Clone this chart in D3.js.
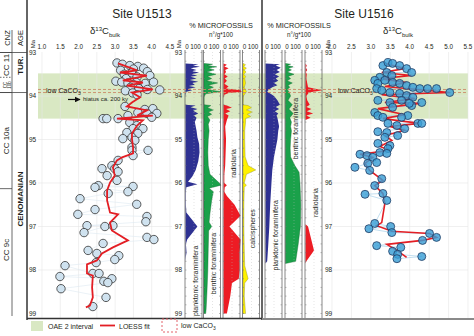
<!DOCTYPE html>
<html>
<head>
<meta charset="utf-8">
<script src="https://cdn.jsdelivr.net/npm/d3@7"></script>
<style>
  body { margin: 0; background: #fff; }
</style>
</head>
<body>
<svg id="chart"></svg>
<script>
// ---------- data (age in Ma) ----------
var ageTicks = [93, 94, 95, 96, 97, 98, 99];
var d13cTicksU1513 = [1.0, 1.5, 2.0, 2.5, 3.0, 3.5, 4.0, 4.5];
var d13cTicksU1516 = [2.0, 2.5, 3.0, 3.5, 4.0, 4.5, 5.0, 5.5];
var microTicks = [0, 100];
var oaeInterval = [93.48, 94.52];
var lowCaco3 = [93.85, 93.92];
var hiatusAge = 94.08;

var zoneNames = ["CC 11", "CC 10b", "CC 10a", "CC 9c"];
var zoneTops = [93.0, 93.57, 93.92, 96.13];
var zoneBases = [93.57, 93.92, 96.13, 98.95];
var stageNames = ["TUR.", "CENOMANIAN"];
var stageTops = [93.0, 93.92];
var stageBases = [93.92, 99.0];

// U1513 bulk d13C [age, value]
var u1513Points = [
  [93.24, 3.05], [93.27, 3.2], [93.3, 3.4], [93.32, 3.62], [93.36, 3.78], [93.38, 3.5],
  [93.41, 3.15], [93.44, 3.88], [93.47, 3.45], [93.5, 3.25], [93.53, 3.95], [93.56, 3.6],
  [93.6, 3.3], [93.66, 3.02], [93.68, 3.18], [93.7, 3.35], [93.69, 3.58], [93.71, 3.82],
  [93.68, 4.05], [93.74, 3.5], [93.8, 3.42], [93.83, 3.65], [93.85, 3.88], [93.86, 4.22],
  [93.88, 3.28], [93.93, 3.48], [93.97, 3.6],
  [94.24, 3.27], [94.31, 3.81], [94.29, 4.03], [94.45, 3.35], [94.38, 3.62], [94.40, 3.87],
  [94.40, 4.14], [94.49, 4.0], [94.52, 2.67], [94.52, 2.77], [94.52, 3.08], [94.61, 3.4],
  [94.68, 3.59], [94.75, 3.76], [94.75, 3.49], [94.84, 3.32], [94.86, 3.62], [94.98, 3.21],
  [94.95, 3.46], [95.02, 3.54], [95.18, 3.46], [95.25, 3.46], [95.25, 3.9], [95.37, 3.49],
  [95.48, 3.08], [95.6, 2.91], [95.67, 2.64], [95.67, 2.99], [95.74, 3.08], [95.83, 2.78],
  [95.94, 3.05], [96.06, 2.54], [96.1, 2.45], [96.24, 2.81], [96.08, 3.49], [96.2, 3.35],
  [96.36, 2.04], [96.49, 3.59], [96.61, 2.45], [96.72, 1.98], [96.77, 3.87], [96.89, 3.84],
  [96.98, 2.23], [97.0, 2.72], [96.98, 2.94], [97.14, 2.15], [97.25, 3.87], [97.3, 4.06],
  [97.39, 2.67], [97.55, 2.26], [97.62, 2.5], [97.67, 3.1], [97.76, 2.99], [97.83, 2.48],
  [97.9, 1.63], [98.08, 2.39], [98.08, 2.56], [98.15, 1.49], [98.2, 2.91], [98.26, 2.69],
  [98.29, 2.8], [98.43, 1.52], [98.63, 2.75], [98.84, 2.39]
];
var u1513Loess = [
  [93.25, 3.08], [93.41, 3.6], [93.46, 3.13], [93.53, 3.87], [93.64, 3.21], [93.69, 3.76],
  [93.76, 3.32], [93.85, 4.03], [93.92, 3.46], [94.03, 3.68], [94.15, 3.46], [94.24, 3.32],
  [94.33, 3.87], [94.45, 3.6], [94.45, 4.03], [94.52, 3.05], [94.56, 3.76], [94.68, 3.6],
  [94.86, 3.46], [94.98, 3.46], [95.18, 3.49], [95.32, 3.49], [95.41, 3.19], [95.48, 3.05],
  [95.64, 2.94], [95.83, 2.99], [95.99, 2.86], [96.17, 2.78], [96.4, 2.78], [96.68, 2.86],
  [96.72, 3.08], [96.91, 2.86], [97.09, 2.91], [97.32, 3.35], [97.48, 2.94], [97.62, 2.64],
  [97.78, 2.5], [97.87, 2.23], [98.08, 2.23], [98.13, 2.39], [98.4, 2.37], [98.63, 2.39],
  [98.82, 2.31], [98.86, 2.2]
];

// U1516 bulk d13C [age, value]
var u1516Points = [
  [93.3, 3.31], [93.23, 3.44], [93.25, 3.56], [93.3, 3.74], [93.37, 3.92], [93.46, 4.05],
  [93.46, 3.41], [93.53, 3.54], [93.57, 3.23], [93.64, 3.1], [93.71, 3.18], [93.64, 3.36],
  [93.69, 3.56], [93.71, 3.74], [93.76, 3.92], [93.8, 4.08], [93.83, 4.26], [93.83, 4.46],
  [93.83, 4.69], [93.92, 5.03], [93.83, 3.15], [93.87, 3.28], [93.92, 3.49], [93.94, 3.74],
  [93.99, 3.92], [94.03, 4.08], [94.1, 3.18], [94.15, 3.49], [94.1, 3.79], [94.15, 4.31],
  [94.22, 4.05], [94.17, 3.99], [94.26, 3.56], [94.38, 3.1], [94.45, 3.18], [94.49, 3.31],
  [94.45, 3.95], [94.49, 3.79], [94.63, 4.21], [94.63, 4.31], [94.63, 3.44], [94.68, 3.67],
  [94.75, 3.87], [94.82, 3.18], [94.84, 3.41], [94.91, 3.69], [94.95, 3.36], [95.09, 3.18],
  [95.14, 3.49], [95.21, 3.44], [95.3, 3.23], [95.32, 3.41], [95.34, 2.72], [95.37, 2.9],
  [95.41, 3.05], [95.53, 3.15], [95.55, 2.92], [95.64, 2.59], [95.71, 2.97], [95.9, 3.28],
  [96.06, 3.1], [96.24, 3.31], [96.26, 2.85], [96.4, 3.41], [96.93, 3.1], [97.05, 2.95],
  [97.0, 3.51], [97.14, 3.54], [97.16, 4.51], [97.25, 4.69], [97.32, 4.33], [97.44, 3.15],
  [97.48, 3.77], [97.57, 3.56], [97.64, 3.69], [97.74, 3.67], [97.69, 4.31]
];
var u1516Loess = [
  [93.25, 3.36], [93.37, 3.87], [93.46, 3.28], [93.53, 4.05], [93.6, 3.23], [93.69, 3.92],
  [93.78, 3.36], [93.92, 5.03], [93.97, 3.28], [94.06, 4.13], [94.15, 3.36], [94.17, 4.26],
  [94.29, 3.18], [94.43, 3.87], [94.52, 3.31], [94.63, 4.26], [94.7, 3.49], [94.79, 3.87],
  [94.91, 3.36], [95.02, 3.54], [95.16, 3.23], [95.25, 3.49], [95.34, 2.72], [95.41, 3.05],
  [95.55, 2.85], [95.71, 2.97], [95.94, 3.31], [96.06, 3.1], [96.24, 3.31], [96.47, 3.36],
  [96.91, 3.28], [96.98, 3.15], [97.11, 3.54], [97.16, 4.51], [97.25, 4.69], [97.32, 4.33],
  [97.41, 3.41], [97.55, 3.67], [97.71, 3.92]
];

// microfossils, n/g*100 [age, value]
var u1513Planktonic = [
  [93.25, 0], [93.27, 150], [93.3, 90], [93.33, 170], [93.36, 60], [93.4, 130], [93.43, 80],
  [93.46, 160], [93.5, 70], [93.53, 140], [93.56, 60], [93.6, 130], [93.63, 50], [93.67, 150],
  [93.7, 80], [93.74, 110], [93.77, 40], [93.8, 120], [93.84, 30], [93.87, 80], [93.9, 10],
  [94.0, 0], [94.2, 0], [94.22, 120], [94.26, 60], [94.3, 140], [94.34, 90], [94.4, 150],
  [94.45, 100], [94.5, 130], [94.6, 110], [94.7, 120], [94.8, 130], [94.95, 140], [95.1, 160],
  [95.3, 165], [95.5, 150], [95.7, 120], [95.85, 80], [95.97, 30], [96.03, 140], [96.1, 10],
  [96.2, 5], [96.5, 5], [96.68, 10], [97.0, 140], [97.3, 20], [97.4, 5], [97.6, 12], [97.7, 4],
  [97.8, 0], [99.0, 0]
];
var u1513Benthic = [
  [93.25, 0], [93.27, 100], [93.3, 40], [93.33, 150], [93.36, 50], [93.4, 120], [93.45, 30],
  [93.5, 140], [93.55, 40], [93.6, 90], [93.65, 30], [93.7, 160], [93.75, 50], [93.8, 110],
  [93.85, 40], [93.9, 190], [93.95, 20], [94.02, 0], [94.2, 0], [94.22, 80], [94.27, 40],
  [94.32, 110], [94.37, 50], [94.42, 90], [94.47, 40], [94.55, 70], [94.65, 50], [94.8, 60],
  [95.0, 50], [95.3, 45], [95.6, 50], [95.8, 70], [96.0, 180], [96.05, 200], [96.12, 60],
  [96.2, 110], [96.4, 90], [96.7, 70], [96.9, 60], [97.0, 90], [97.1, 55], [97.5, 50],
  [98.0, 45], [98.5, 35], [98.9, 25], [99.0, 20]
];
var u1513Radiolaria = [
  [93.25, 0], [93.28, 40], [93.32, 10], [93.36, 60], [93.4, 20], [93.45, 30], [93.5, 10],
  [93.55, 50], [93.6, 15], [93.65, 40], [93.72, 10], [93.78, 60], [93.83, 30], [93.87, 200],
  [93.9, 215], [93.93, 60], [93.97, 10], [94.05, 0], [94.2, 0], [94.22, 40], [94.27, 100],
  [94.3, 30], [94.35, 80], [94.4, 20], [94.45, 60], [94.55, 40], [94.7, 20], [95.0, 30],
  [95.3, 25], [95.6, 20], [95.8, 10], [96.0, 10], [96.05, 40], [96.1, 15], [96.2, 10],
  [96.3, 40], [96.5, 130], [96.75, 200], [97.0, 70], [97.3, 200], [97.6, 190], [98.0, 190],
  [98.2, 180], [98.3, 100], [98.6, 80], [99.0, 40]
];
var u1513Calcispheres = [
  [93.25, 0], [93.28, 30], [93.32, 10], [93.36, 40], [93.4, 15], [93.45, 35], [93.5, 10],
  [93.55, 30], [93.6, 20], [93.7, 30], [93.8, 15], [93.9, 40], [94.0, 5], [94.2, 0],
  [94.22, 60], [94.27, 100], [94.32, 40], [94.37, 110], [94.42, 50], [94.47, 90], [94.52, 30],
  [94.6, 30], [94.8, 20], [95.0, 20], [95.4, 25], [95.6, 60], [95.7, 150], [95.8, 40],
  [96.0, 15], [96.05, 40], [96.1, 15], [96.5, 10], [97.0, 10], [97.5, 15], [97.9, 20],
  [98.2, 60], [98.3, 20], [98.6, 15], [99.0, 30]
];
var u1516Planktonic = [
  [93.25, 0], [93.27, 170], [93.3, 120], [93.35, 180], [93.4, 130], [93.45, 170], [93.5, 110],
  [93.55, 160], [93.6, 120], [93.65, 150], [93.7, 100], [93.75, 140], [93.8, 80], [93.85, 40],
  [93.9, 20], [93.95, 60], [94.0, 100], [94.1, 140], [94.2, 170], [94.25, 120], [94.3, 160],
  [94.35, 110], [94.4, 150], [94.45, 130], [94.5, 140], [94.6, 150], [94.7, 160], [94.8, 150],
  [95.0, 140], [95.2, 120], [95.4, 100], [95.7, 80], [96.0, 70], [96.5, 55], [97.0, 45],
  [97.5, 30], [97.8, 20], [97.85, 0]
];
var u1516Benthic = [
  [93.25, 0], [93.27, 60], [93.3, 20], [93.33, 90], [93.37, 30], [93.4, 70], [93.45, 20],
  [93.5, 100], [93.55, 30], [93.6, 60], [93.65, 20], [93.7, 80], [93.75, 30], [93.8, 50],
  [93.85, 20], [93.9, 40], [94.0, 60], [94.1, 30], [94.2, 80], [94.3, 40], [94.4, 90],
  [94.5, 50], [94.6, 70], [94.7, 60], [94.8, 70], [95.0, 60], [95.2, 55], [95.4, 60],
  [95.6, 110], [95.75, 160], [96.0, 170], [96.5, 180], [97.0, 175], [97.4, 150], [97.8, 120],
  [97.85, 0]
];
var u1516Radiolaria = [
  [93.25, 0], [93.3, 15], [93.35, 5], [93.4, 20], [93.45, 5], [93.5, 15], [93.6, 10],
  [93.7, 20], [93.8, 30], [93.87, 200], [93.92, 40], [94.0, 10], [94.1, 20], [94.2, 50],
  [94.25, 10], [94.3, 70], [94.35, 15], [94.4, 90], [94.45, 10], [94.5, 60], [94.55, 0],
  [96.95, 0], [97.0, 30], [97.55, 100], [97.8, 10], [97.85, 0]
];

// ---------- drawing ----------
var ink = "#231f20";
var svg = d3.select("#chart")
  .attr("width", 474)
  .attr("height", 336)
  .style("font-family", '"Liberation Sans", Arial, sans-serif');

var y = d3.scaleLinear().domain([93, 99]).range([52.5, 313.5]);
var xL = d3.scaleLinear().domain([1.0, 4.5]).range([42, 170]);
var xR = d3.scaleLinear().domain([2.0, 5.5]).range([332, 468]);

function vtext(x, yy, str, size, weight) {
  return svg.append("text")
    .attr("transform", "translate(" + x + "," + yy + ") rotate(-90)")
    .attr("text-anchor", "middle")
    .attr("dy", "0.35em")
    .attr("font-size", size)
    .attr("font-weight", weight || "normal")
    .attr("fill", ink)
    .text(str);
}

// OAE 2 band
var bandY = y(oaeInterval[0]), bandH = y(oaeInterval[1]) - y(oaeInterval[0]);
svg.append("rect").attr("x", 38).attr("y", bandY).attr("width", 224).attr("height", bandH).attr("fill", "#d9e8c3");
svg.append("rect").attr("x", 263).attr("y", bandY).attr("width", 205).attr("height", bandH).attr("fill", "#d9e8c3");

// grid lines
var grid = svg.append("g").attr("stroke", "#e6e6e6").attr("stroke-width", 0.6);
d13cTicksU1513.forEach(function(t) {
  grid.append("line").attr("x1", xL(t)).attr("x2", xL(t)).attr("y1", 52).attr("y2", 318);
});
d13cTicksU1516.forEach(function(t) {
  grid.append("line").attr("x1", xR(t)).attr("x2", xR(t)).attr("y1", 52).attr("y2", 318);
});
ageTicks.slice(1, -1).forEach(function(a) {
  grid.append("line").attr("x1", 38).attr("x2", 172).attr("y1", y(a)).attr("y2", y(a));
  grid.append("line").attr("x1", 333).attr("x2", 468).attr("y1", y(a)).attr("y2", y(a));
});

// microfossil panels
function microPanel(left, data, fill, stroke, label, labelAge) {
  var x = d3.scaleLinear().domain([0, 200]).range([left + 0.5, left + 17.5]);
  var g = svg.append("g");
  g.append("path").datum(data)
    .attr("d", d3.area().y(function(d) { return y(d[0]); }).x0(x(0)).x1(function(d) { return x(d[1]); }))
    .attr("fill", fill)
    .attr("stroke", stroke)
    .attr("stroke-width", stroke === "none" ? 0 : 0.4);
  // frame with small ticks
  [left, left + 17].forEach(function(xx, i) {
    g.append("line").attr("x1", xx).attr("x2", xx).attr("y1", 50).attr("y2", 318)
      .attr("stroke", "#555").attr("stroke-width", 0.7);
    d3.range(93, 99.01, 0.2).forEach(function(a) {
      g.append("line").attr("x1", xx).attr("x2", i === 0 ? xx + 1.5 : xx - 1.5)
        .attr("y1", y(a)).attr("y2", y(a)).attr("stroke", "#777").attr("stroke-width", 0.5);
    });
  });
  g.append("line").attr("x1", x(100)).attr("x2", x(100)).attr("y1", 52).attr("y2", 318)
    .attr("stroke", "#bbb").attr("stroke-width", 0.4).attr("stroke-dasharray", "1,2");
  microTicks.forEach(function(t) {
    svg.append("text").attr("x", x(t) + 1.6).attr("y", 49).attr("text-anchor", "middle")
      .attr("font-size", 6.3).attr("fill", ink).text(t);
  });
  vtext(left + 10.5, y(labelAge), label, 7);
}

microPanel(185, u1513Planktonic, "#2e3192", "none", "planktonic foraminifera", 98.25);
microPanel(203.5, u1513Benthic, "#1aa14a", "#0d6b2c", "benthic foraminifera", 97.85);
microPanel(223, u1513Radiolaria, "#ed1c24", "none", "radiolaria", 95.55);
microPanel(242.5, u1513Calcispheres, "#fff200", "#8a8a1e", "calcispheres", 97.05);
microPanel(265, u1516Planktonic, "#2e3192", "none", "planktonic foraminifera", 97.2);
microPanel(285, u1516Benthic, "#1aa14a", "#0d6b2c", "benthic foraminifera", 94.75);
microPanel(305, u1516Radiolaria, "#ed1c24", "none", "radiolaria", 96.45);

// low CaCO3 dashed lines
lowCaco3.forEach(function(a) {
  svg.append("line").attr("x1", 38).attr("x2", 262).attr("y1", y(a)).attr("y2", y(a))
    .attr("stroke", "#c98b6b").attr("stroke-width", 0.9).attr("stroke-dasharray", "3,2");
  svg.append("line").attr("x1", 263).attr("x2", 468).attr("y1", y(a)).attr("y2", y(a))
    .attr("stroke", "#c98b6b").attr("stroke-width", 0.9).attr("stroke-dasharray", "3,2");
});

function lowLabel(x, yy, size) {
  var t = svg.append("text").attr("x", x).attr("y", yy).attr("font-size", size).attr("fill", ink);
  t.append("tspan").text("low CaCO");
  t.append("tspan").attr("dy", 1.8).attr("font-size", size * 0.7).text("3");
  return t;
}
lowLabel(46, y(d3.mean(lowCaco3)) + 2.5, 7);
lowLabel(338, y(d3.mean(lowCaco3)) + 2.5, 7);

// hiatus arrow
svg.append("defs").append("marker").attr("id", "arr").attr("viewBox", "0 0 10 10")
  .attr("refX", 9).attr("refY", 5).attr("markerWidth", 5).attr("markerHeight", 5)
  .attr("orient", "auto").append("path").attr("d", "M0,0L10,5L0,10z").attr("fill", "#111");
svg.append("line").attr("x1", 68).attr("x2", 80).attr("y1", y(hiatusAge)).attr("y2", y(hiatusAge))
  .attr("stroke", "#111").attr("stroke-width", 1.2).attr("marker-end", "url(#arr)");
svg.append("text").attr("x", 83).attr("y", y(hiatusAge) + 2).attr("font-size", 6).attr("fill", ink)
  .text("hiatus ca. 200 ky");

// line helper
var lineL = d3.line().x(function(d) { return xL(d[1]); }).y(function(d) { return y(d[0]); });
var lineR = d3.line().x(function(d) { return xR(d[1]); }).y(function(d) { return y(d[0]); });
function byAge(a, b) { return a[0] - b[0]; }

// U1513 scatter + LOESS
svg.append("path").datum(u1513Points.slice().sort(byAge)).attr("d", lineL)
  .attr("fill", "none").attr("stroke", "#dde9f2").attr("stroke-width", 0.6);
svg.selectAll("circle.u1513").data(u1513Points).enter().append("circle")
  .attr("class", "u1513")
  .attr("cx", function(d) { return xL(d[1]); })
  .attr("cy", function(d) { return y(d[0]); })
  .attr("r", 4.2)
  .attr("fill", "#cfe2ef")
  .attr("stroke", "#333")
  .attr("stroke-width", 0.8);
svg.append("path").datum(u1513Loess).attr("d", lineL)
  .attr("fill", "none").attr("stroke", "#e31e24").attr("stroke-width", 1.8);

// U1516 LOESS + scatter
svg.append("path").datum(u1516Points.slice().sort(byAge)).attr("d", lineR)
  .attr("fill", "none").attr("stroke", "#a9d1ea").attr("stroke-width", 0.7);
svg.append("path").datum(u1516Loess).attr("d", lineR)
  .attr("fill", "none").attr("stroke", "#e31e24").attr("stroke-width", 1.6);
svg.selectAll("circle.u1516").data(u1516Points).enter().append("circle")
  .attr("class", "u1516")
  .attr("cx", function(d) { return xR(d[1]); })
  .attr("cy", function(d) { return y(d[0]); })
  .attr("r", 4)
  .attr("fill", "#3a9fd6")
  .attr("fill-opacity", 0.82)
  .attr("stroke", "#1f3b63")
  .attr("stroke-width", 0.8);

// axis frame
svg.append("line").attr("x1", 27).attr("x2", 27).attr("y1", 0).attr("y2", 320).attr("stroke", "#333").attr("stroke-width", 1.5);
svg.append("line").attr("x1", 262).attr("x2", 262).attr("y1", 0).attr("y2", 320).attr("stroke", "#333").attr("stroke-width", 1.5);
svg.append("line").attr("x1", 27).attr("x2", 262).attr("y1", 318.5).attr("y2", 318.5).attr("stroke", "#333").attr("stroke-width", 1.5);
svg.append("line").attr("x1", 262).attr("x2", 474).attr("y1", 319).attr("y2", 319).attr("stroke", "#8a8a8a").attr("stroke-width", 2);

// age axes labels
[[29, "start", 33], [182, "end", 179], [325, "start", 328]].forEach(function(ax) {
  ageTicks.forEach(function(a) {
    svg.append("text").attr("x", ax[0]).attr("y", y(a)).attr("dy", "0.35em")
      .attr("text-anchor", ax[1]).attr("font-size", 6.5).attr("fill", ink).text(a);
  });
  vtext(ax[2], 44, "Ma", 6);
});

// d13C tick labels
d13cTicksU1513.forEach(function(t) {
  svg.append("text").attr("x", xL(t)).attr("y", 49).attr("text-anchor", "middle")
    .attr("font-size", 6.3).attr("fill", ink).text(d3.format(".1f")(t));
});
d13cTicksU1516.forEach(function(t) {
  svg.append("text").attr("x", xR(t)).attr("y", 49).attr("text-anchor", "middle")
    .attr("font-size", 6.3).attr("fill", ink).text(d3.format(".1f")(t));
});

// titles
function d13cTitle(x) {
  var t = svg.append("text").attr("x", x).attr("y", 34).attr("text-anchor", "middle")
    .attr("font-size", 9.5).attr("fill", ink);
  t.append("tspan").text("\u03b4");
  t.append("tspan").attr("dy", -3.5).attr("font-size", 6).text("13");
  t.append("tspan").attr("dy", 3.5).text("C");
  t.append("tspan").attr("dy", 2.5).attr("font-size", 6).text("bulk");
}
d13cTitle(105);
d13cTitle(398);
svg.append("text").attr("x", 142).attr("y", 18).attr("text-anchor", "middle").attr("font-size", 12).attr("fill", ink).text("Site U1513");
svg.append("text").attr("x", 364).attr("y", 18).attr("text-anchor", "middle").attr("font-size", 12).attr("fill", ink).text("Site U1516");
[[221, "% MICROFOSSILS"], [299, "% MICROFOSSILS"]].forEach(function(h) {
  svg.append("text").attr("x", h[0]).attr("y", 28).attr("text-anchor", "middle").attr("font-size", 7.3).attr("fill", ink).text(h[1]);
  svg.append("text").attr("x", h[0]).attr("y", 37).attr("text-anchor", "middle").attr("font-size", 6.3).attr("fill", ink).text("n\u00b0/g*100");
});

// stratigraphy columns
svg.append("line").attr("x1", 12).attr("x2", 12).attr("y1", 30).attr("y2", 316).attr("stroke", "#444").attr("stroke-width", 0.8);
vtext(7, 38, "CNZ", 7.5);
vtext(20, 38, "AGE", 7.5);
zoneNames.forEach(function(n, i) {
  var top = y(zoneTops[i]), base = y(zoneBases[i]);
  svg.append("line").attr("x1", 0).attr("x2", 12).attr("y1", top).attr("y2", top)
    .attr("stroke", "#444").attr("stroke-width", 0.8)
    .attr("stroke-dasharray", i === 1 ? "1.5,1.5" : null);
  if (n === "CC 10b") {
    vtext(5, (top + base) / 2, "CC", 4.5);
    vtext(9.5, (top + base) / 2, "10b", 4.5);
  } else {
    vtext(6.5, (top + base) / 2, n, 8);
  }
});
stageNames.forEach(function(n, i) {
  var top = y(stageTops[i]), base = y(stageBases[i]);
  svg.append("line").attr("x1", 0).attr("x2", 27).attr("y1", top).attr("y2", top)
    .attr("stroke", "#444").attr("stroke-width", 0.8);
  vtext(20, i === 0 ? top + 13 : (top + base) / 2 - 4, n, 8, "bold");
});

// legend
svg.append("rect").attr("x", 31).attr("y", 321).attr("width", 12).attr("height", 10).attr("fill", "#d9e8c3");
svg.append("text").attr("x", 48).attr("y", 329).attr("font-size", 7).attr("fill", ink).text("OAE 2 interval");
svg.append("line").attr("x1", 100).attr("x2", 115).attr("y1", 325.5).attr("y2", 325.5).attr("stroke", "#e31e24").attr("stroke-width", 1.8);
svg.append("text").attr("x", 119).attr("y", 329).attr("font-size", 7).attr("fill", ink).text("LOESS fit");
svg.append("rect").attr("x", 162).attr("y", 319).attr("width", 15).attr("height", 13)
  .attr("fill", "none").attr("stroke", "#e0505a").attr("stroke-width", 0.9).attr("stroke-dasharray", "2,2");
lowLabel(181, 328, 7);
</script>
</body>
</html>
